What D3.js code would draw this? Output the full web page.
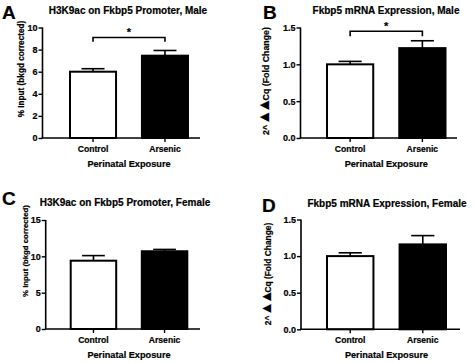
<!DOCTYPE html>
<html>
<head>
<meta charset="utf-8">
<script src="https://cdn.jsdelivr.net/npm/d3@7"></script>
<style>
  body { margin: 0; background: #fff; }
  svg { display: block; font-family: "Liberation Sans", Arial, sans-serif; font-weight: bold; }
  svg text { stroke: #000; stroke-width: 0.2px; }
</style>
</head>
<body>
<svg id="chart" width="474" height="363"></svg>
<script>
// === DATA ===
const categories = ["Control", "Arsenic"];
const barColors = ["#fff", "#000"];

// Panel A - H3K9ac, male
const maleAcMean = [6.0, 7.45];
const maleAcSem = [0.27, 0.47];
const maleAcTicks = [0, 2, 4, 6, 8, 10];

// Panel B - mRNA, male
const maleMrnaMean = [1.0, 1.22];
const maleMrnaSem = [0.04, 0.10];
const mrnaTicks = [0, 0.5, 1.0, 1.5];

// Panel C - H3K9ac, female
const femaleAcMean = [9.4, 10.7];
const femaleAcSem = [0.7, 0.25];
const femaleAcTicks = [0, 5, 10, 15];

// Panel D - mRNA, female
const femaleMrnaMean = [1.0, 1.16];
const femaleMrnaSem = [0.045, 0.12];

// significance brackets: [bracket level, leg bottom] in data units
const maleAcSig = [9.1, 8.7];
const maleMrnaSig = [1.45, 1.38];

const acLabel = ["% Input (bkgd corrected)"];
const mrnaLabel = ["2^", "\u25B2\u25B2", "Cq (Fold Change)"];
const xLabel = "Perinatal Exposure";

// === PANEL LAYOUT ===
const panels = [
  { letter: "A", title: "H3K9ac on Fkbp5 Promoter, Male", mean: maleAcMean, sem: maleAcSem,
    ticks: maleAcTicks, fmt: d3.format("d"), yMax: 10, yLabel: acLabel, yLabelSize: 8.2, sig: maleAcSig,
    left: 42.5, right: 200, top: 27.5, bottom: 138, bars: [70, 188],
    letterPos: [2, 19], titlePos: [128, 14], yLabelPos: [21, 69], catY: 151.7, xLabelY: 167 },
  { letter: "B", title: "Fkbp5 mRNA Expression, Male", mean: maleMrnaMean, sem: maleMrnaSem,
    ticks: mrnaTicks, fmt: d3.format(".1f"), yMax: 1.5, yLabel: mrnaLabel, yLabelSize: 8.8, sig: maleMrnaSig,
    left: 300.5, right: 457, top: 27.5, bottom: 138, bars: [327, 445.5],
    letterPos: [263, 19], titlePos: [386, 14], yLabelPos: [266, 81], catY: 151.7, xLabelY: 167 },
  { letter: "C", title: "H3K9ac on Fkbp5 Promoter, Female", mean: femaleAcMean, sem: femaleAcSem,
    ticks: femaleAcTicks, fmt: d3.format("d"), yMax: 15, yLabel: acLabel, yLabelSize: 7.8, sig: null,
    left: 45.7, right: 200, top: 220, bottom: 329, bars: [70.7, 187.3],
    letterPos: [2, 205], titlePos: [125, 206], yLabelPos: [25, 251], catY: 342.5, xLabelY: 358 },
  { letter: "D", title: "Fkbp5 mRNA Expression, Female", mean: femaleMrnaMean, sem: femaleMrnaSem,
    ticks: mrnaTicks, fmt: d3.format(".1f"), yMax: 1.5, yLabel: mrnaLabel, yLabelSize: 8.4, sig: null,
    left: 301, right: 460, top: 219.5, bottom: 329.3, bars: [327, 446],
    letterPos: [262, 212], titlePos: [387, 207], yLabelPos: [268, 274], catY: 342.5, xLabelY: 358 }
];

const svg = d3.select("#chart");

function drawPanel(p) {
  const g = svg.append("g");

  const y = d3.scaleLinear().domain([0, p.yMax]).range([p.bottom, p.top]);
  const x = d3.scaleBand().domain(categories).range(p.bars).paddingInner(0.36).paddingOuter(0);

  // panel letter + title
  g.append("text").attr("x", p.letterPos[0]).attr("y", p.letterPos[1])
    .attr("font-size", 19).text(p.letter);
  g.append("text").attr("x", p.titlePos[0]).attr("y", p.titlePos[1])
    .attr("text-anchor", "middle").attr("font-size", 10).text(p.title);

  // bars
  g.selectAll(".bar").data(categories).enter().append("rect")
    .attr("x", d => x(d))
    .attr("y", (d, i) => y(p.mean[i]))
    .attr("width", x.bandwidth())
    .attr("height", (d, i) => y(0) - y(p.mean[i]))
    .attr("fill", (d, i) => barColors[i])
    .attr("stroke", "#000").attr("stroke-width", 2);

  // error bars (upper only)
  categories.forEach((c, i) => {
    const cx = x(c) + x.bandwidth() / 2;
    const hw = x.bandwidth() / 4;
    const top = y(p.mean[i] + p.sem[i]);
    g.append("line").attr("x1", cx).attr("x2", cx)
      .attr("y1", y(p.mean[i])).attr("y2", top)
      .attr("stroke", "#000").attr("stroke-width", 1.6);
    g.append("line").attr("x1", cx - hw).attr("x2", cx + hw)
      .attr("y1", top).attr("y2", top)
      .attr("stroke", "#000").attr("stroke-width", 1.6);
  });

  // y axis
  const yAxis = d3.axisLeft(y).tickValues(p.ticks).tickFormat(p.fmt).tickSize(4).tickPadding(1);
  const ya = g.append("g").attr("transform", `translate(${p.left},0)`).call(yAxis);
  ya.select(".domain").attr("stroke-width", 1.6).attr("d", `M0,${p.top}V${p.bottom}`);
  ya.selectAll(".tick line").attr("stroke-width", 1.4);
  ya.selectAll("text").attr("font-size", 9).attr("font-weight", "bold")
    .attr("font-family", "Liberation Sans, Arial, sans-serif").attr("fill", "#000");

  // x axis line and category ticks
  g.append("line").attr("x1", p.left - 0.8).attr("x2", p.right)
    .attr("y1", p.bottom).attr("y2", p.bottom)
    .attr("stroke", "#000").attr("stroke-width", 1.6);
  categories.forEach(c => {
    const cx = x(c) + x.bandwidth() / 2;
    g.append("line").attr("x1", cx).attr("x2", cx)
      .attr("y1", p.bottom).attr("y2", p.bottom + 4)
      .attr("stroke", "#000").attr("stroke-width", 1.4);
    g.append("text").attr("x", cx).attr("y", p.catY)
      .attr("text-anchor", "middle").attr("font-size", 8.6).text(c);
  });

  // axis titles
  g.append("text").attr("x", (p.bars[0] + p.bars[1]) / 2).attr("y", p.xLabelY)
    .attr("text-anchor", "middle").attr("font-size", 9.2).text(xLabel);
  const yt = g.append("text")
    .attr("transform", `translate(${p.yLabelPos[0]},${p.yLabelPos[1]}) rotate(-90)`)
    .attr("text-anchor", "middle").attr("dy", "0.35em").attr("font-size", p.yLabelSize);
  yt.selectAll("tspan").data(p.yLabel).enter().append("tspan")
    .attr("font-size", (d, i) => i === 1 ? p.yLabelSize * 1.75 : null)
    .attr("letter-spacing", (d, i) => i === 1 ? -3 : null)
    .text(d => d);

  // significance bracket
  if (p.sig) {
    const x0 = x(categories[0]) + x.bandwidth() / 2;
    const x1 = x(categories[1]) + x.bandwidth() / 2;
    const yb = y(p.sig[0]), yl = y(p.sig[1]);
    g.append("path")
      .attr("d", `M${x0},${yl}V${yb}H${x1}V${yl}`)
      .attr("fill", "none").attr("stroke", "#000").attr("stroke-width", 1.6);
    g.append("text").attr("x", (x0 + x1) / 2).attr("y", yb - 1)
      .attr("text-anchor", "middle").attr("font-size", 11).text("*");
  }
}

panels.forEach(drawPanel);
</script>
</body>
</html>
